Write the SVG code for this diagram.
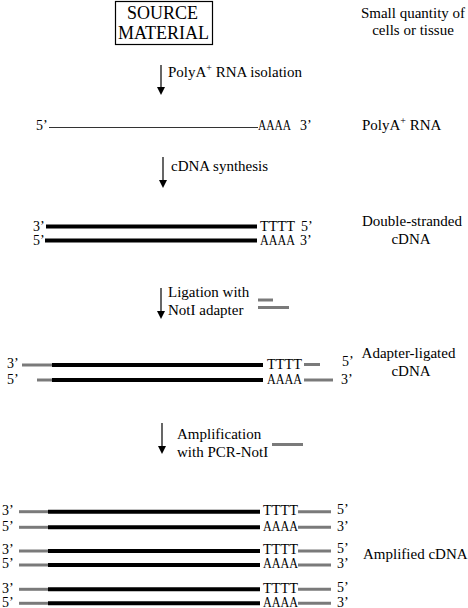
<svg xmlns="http://www.w3.org/2000/svg" width="468" height="608" viewBox="0 0 468 608" font-family="'Liberation Serif', 'Times New Roman', 'DejaVu Serif', serif">
<defs>
<style>
text{font-family:'Liberation Serif','Times New Roman','DejaVu Serif',serif;fill:#000}
.t{font-size:15px}
.big{font-size:18px}
.seq{font-size:14px}
.end{font-size:14px}
.ctr{text-anchor:middle}
.blk{stroke:#000;stroke-width:4;fill:none}
.gry{stroke:#7a7a7a;stroke-width:3;fill:none}
.rna{stroke:#333;stroke-width:1.2;fill:none}
.arr{stroke:#000;stroke-width:1.2;fill:none}
</style>
<marker id="ah" markerUnits="userSpaceOnUse" markerWidth="10" markerHeight="8" refX="0" refY="4" orient="auto">
<path d="M0,0 L8,4 L0,8 Z" fill="#000"/>
</marker>
</defs>
<rect width="468" height="608" fill="#fff"/>

<g id="source">
<rect x="115.5" y="1.5" width="97" height="43" fill="#fff" stroke="#000" stroke-width="1.2"/>
<text class="big" x="127" y="19">SOURCE</text>
<text class="big" x="118" y="39">MATERIAL</text>
</g>
<g id="label-source">
<text class="t ctr" x="413" y="18">Small quantity of</text>
<text class="t ctr" x="413" y="35">cells or tissue</text>
</g>

<g id="connectors">
<line class="arr" x1="161" y1="65" x2="161" y2="87" marker-end="url(#ah)"/>
<line class="arr" x1="163" y1="157" x2="163" y2="180" marker-end="url(#ah)"/>
<line class="arr" x1="161" y1="288" x2="161" y2="311" marker-end="url(#ah)"/>
<line class="arr" x1="162" y1="423" x2="162" y2="446" marker-end="url(#ah)"/>
</g>

<g id="step1">
<text class="t" x="168" y="77">PolyA<tspan font-size="10" dy="-6">+</tspan><tspan dy="6"> RNA isolation</tspan></text>
</g>
<g id="step2">
<text class="t" x="171" y="171">cDNA synthesis</text>
</g>
<g id="step3">
<text class="t" x="168" y="297">Ligation with</text>
<text class="t" x="168" y="315">NotI adapter</text>
<line class="gry" x1="258" y1="300" x2="273" y2="300" stroke-width="2.5"/>
<line class="gry" x1="258" y1="307.5" x2="289" y2="307.5" stroke-width="2.5"/>
</g>
<g id="step4">
<text class="t" x="177" y="439">Amplification</text>
<text class="t" x="177" y="457">with PCR-NotI</text>
<line class="gry" x1="272" y1="444.5" x2="303" y2="444.5" stroke-width="2.5"/>
</g>

<g id="polyA-rna">
<text class="end" x="36" y="130">5’</text>
<line class="rna" x1="49" y1="127.5" x2="258" y2="127.5"/>
<text class="seq" x="258" y="130" textLength="33" lengthAdjust="spacingAndGlyphs">AAAA</text>
<text class="end" x="300" y="130">3’</text>
<text class="t" x="362" y="130">PolyA<tspan font-size="10" dy="-6">+</tspan><tspan dy="6"> RNA</tspan></text>
</g>

<g id="ds-cdna">
<text class="end" x="33" y="230.5">3’</text>
<line class="blk" x1="46" y1="226.5" x2="257" y2="226.5"/>
<text class="seq" x="260" y="231" textLength="35" lengthAdjust="spacingAndGlyphs">TTTT</text>
<text class="end" x="301" y="231">5’</text>
<text class="end" x="33" y="245">5’</text>
<line class="blk" x1="45" y1="240.5" x2="257" y2="240.5"/>
<text class="seq" x="260" y="245" textLength="35" lengthAdjust="spacingAndGlyphs">AAAA</text>
<text class="end" x="300" y="245">3’</text>
<text class="t ctr" x="412" y="226">Double-stranded</text>
<text class="t ctr" x="411" y="244">cDNA</text>
</g>

<g id="adapter-ligated">
<text class="end" x="7" y="368">3’</text>
<line class="gry" x1="22" y1="365" x2="52" y2="365"/>
<line class="blk" x1="52" y1="365" x2="263" y2="365"/>
<text class="seq" x="267" y="369" textLength="35" lengthAdjust="spacingAndGlyphs">TTTT</text>
<line class="gry" x1="304" y1="364.5" x2="320" y2="364.5"/>
<text class="end" x="342" y="366">5’</text>
<text class="end" x="7" y="384">5’</text>
<line class="gry" x1="37" y1="380" x2="52" y2="380"/>
<line class="blk" x1="52" y1="380" x2="263" y2="380"/>
<text class="seq" x="267" y="384" textLength="35" lengthAdjust="spacingAndGlyphs">AAAA</text>
<line class="gry" x1="304" y1="380" x2="333" y2="380"/>
<text class="end" x="341" y="384">3’</text>
<text class="t ctr" x="408.5" y="358">Adapter-ligated</text>
<text class="t ctr" x="411" y="376">cDNA</text>
</g>

<g id="amplified-1">
<text class="end" x="2" y="515">3’</text>
<line class="gry" x1="19" y1="511.7" x2="48" y2="511.7"/>
<line class="blk" x1="48" y1="511.7" x2="260" y2="511.7"/>
<text class="seq" x="263" y="515" textLength="35" lengthAdjust="spacingAndGlyphs">TTTT</text>
<line class="gry" x1="298" y1="511.7" x2="331" y2="511.7"/>
<text class="end" x="337" y="514">5’</text>
<text class="end" x="2" y="530.5">5’</text>
<line class="gry" x1="19" y1="527.3" x2="48" y2="527.3"/>
<line class="blk" x1="48" y1="527.3" x2="260" y2="527.3"/>
<text class="seq" x="263" y="530.5" textLength="35" lengthAdjust="spacingAndGlyphs">AAAA</text>
<line class="gry" x1="298" y1="527.3" x2="331" y2="527.3"/>
<text class="end" x="337" y="530.5">3’</text>
</g>
<g id="amplified-2">
<text class="end" x="2" y="554">3’</text>
<line class="gry" x1="19" y1="551" x2="48" y2="551"/>
<line class="blk" x1="48" y1="551" x2="260" y2="551"/>
<text class="seq" x="263" y="554" textLength="35" lengthAdjust="spacingAndGlyphs">TTTT</text>
<line class="gry" x1="298" y1="551" x2="331" y2="551"/>
<text class="end" x="337" y="553">5’</text>
<text class="end" x="2" y="568">5’</text>
<line class="gry" x1="19" y1="565" x2="48" y2="565"/>
<line class="blk" x1="48" y1="565" x2="260" y2="565"/>
<text class="seq" x="263" y="568" textLength="35" lengthAdjust="spacingAndGlyphs">AAAA</text>
<line class="gry" x1="298" y1="565" x2="331" y2="565"/>
<text class="end" x="337" y="568">3’</text>
</g>
<g id="amplified-3">
<text class="end" x="2" y="592.5">3’</text>
<line class="gry" x1="19" y1="589.3" x2="48" y2="589.3"/>
<line class="blk" x1="48" y1="589.3" x2="260" y2="589.3"/>
<text class="seq" x="263" y="592.5" textLength="35" lengthAdjust="spacingAndGlyphs">TTTT</text>
<line class="gry" x1="298" y1="589.3" x2="331" y2="589.3"/>
<text class="end" x="337" y="591.5">5’</text>
<text class="end" x="2" y="606.5">5’</text>
<line class="gry" x1="19" y1="603.3" x2="48" y2="603.3"/>
<line class="blk" x1="48" y1="603.3" x2="260" y2="603.3"/>
<text class="seq" x="263" y="606.5" textLength="35" lengthAdjust="spacingAndGlyphs">AAAA</text>
<line class="gry" x1="298" y1="603.3" x2="331" y2="603.3"/>
<text class="end" x="337" y="606.5">3’</text>
</g>
<g id="label-amplified">
<text class="t" x="363" y="559">Amplified cDNA</text>
</g>
</svg>
